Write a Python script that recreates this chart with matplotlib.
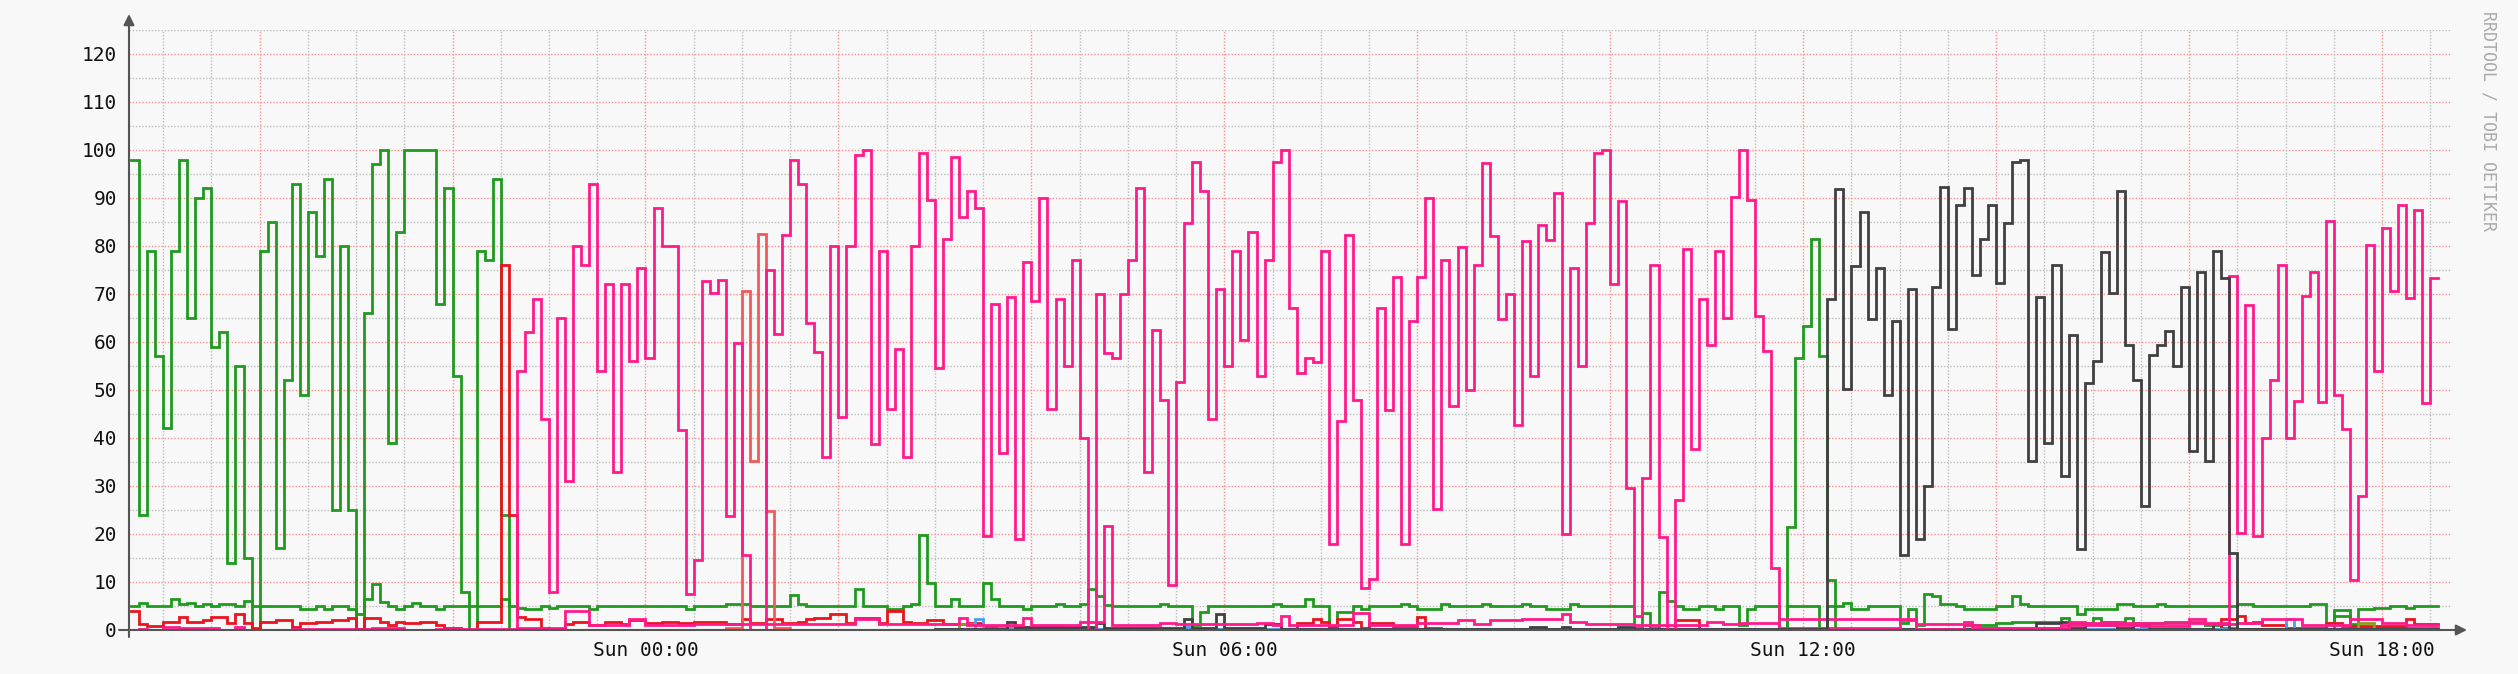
import numpy as np
import matplotlib
matplotlib.use("Agg")
import matplotlib.pyplot as plt
from matplotlib.transforms import blended_transform_factory

N = 287          # 5-minute steps, first step starts Sat 18:40
STEP_H = 5 / 60.0
MIDNIGHT_STEP = 64
nan = np.nan

# ---------------- data ----------------
# big green series, steps 0..46, then idle, then steps 206..211
green_head = [98, 24, 79, 57, 42, 79, 98, 65, 90, 92, 59, 62, 14, 55, 15, 0, 79, 85, 17, 52,
              93, 49, 87, 78, 94, 25, 80, 25, 0, 66, 97, 100, 39, 83, 100, 100, 100, 100, 68, 92,
              53, 8, 0, 79, 77, 94, 24]
green_mid = [21.5, 56.6, 63.3, 81.5, 57, 10.5]
green_tail_bps = [(212, 0.3), (228, 1.0), (232, 1.4), (234, 1.7), (240, 2.5), (241, 1.4), (244, 2.5),
                  (245, 1.7), (248, 2.5), (249, 1.4), (253, 1.7), (258, 1.0), (260, 0.5), (262, 0.3),
                  (274, 3.0), (276, 0.5)]

# low green series (start step, value)
green_low_bps = [(0, 5), (1, 5.7), (2, 5), (5, 6.4), (6, 5.5), (7, 5.6), (8, 5), (9, 5.5), (10, 5), (11, 5.4),
                 (12, 5.5), (13, 5), (14, 6), (15, 5), (21, 4.3), (23, 5), (24, 4.3), (25, 5), (27, 4.3),
                 (28, 3.3), (29, 6.5), (30, 9.5), (31, 5.9), (32, 5), (33, 4.3), (34, 5), (35, 5.6), (36, 5),
                 (38, 4.3), (39, 5), (46, 6.5), (47, 5), (48, 4.6), (49, 4.3), (51, 5), (52, 4.6), (53, 5),
                 (57, 4.3), (58, 5), (69, 4.3), (70, 5), (74, 5.5), (77, 5), (82, 7.2), (83, 5.5), (84, 5),
                 (90, 8.5), (91, 5), (94, 4.3), (96, 5), (97, 5.5), (98, 19.7), (99, 9.7), (100, 5),
                 (102, 6.5), (103, 5), (106, 9.7), (107, 6.5), (108, 5), (111, 4.3), (112, 5), (115, 5.5),
                 (116, 5), (118, 5.5), (119, 8.5), (120, 7), (121, 5.3), (122, 5), (128, 5.5), (129, 5),
                 (132, 1.0), (133, 3.8), (134, 5), (142, 5.5), (143, 5), (146, 6.4), (147, 5), (149, 0.6),
                 (150, 3.8), (152, 5), (153, 4.3), (154, 5), (158, 5.5), (159, 5), (160, 4.3), (163, 5.5),
                 (164, 5), (168, 5.5), (169, 5), (173, 5.5), (174, 5), (176, 4.3), (179, 5.5), (180, 5),
                 (187, 0.5), (188, 3.5), (189, 0.5), (190, 8), (191, 6), (192, 5), (193, 4.3), (195, 5),
                 (197, 4.3), (198, 5), (200, 1), (201, 4.3), (202, 5), (205, 0.3), (206, 5), (210, 0.5),
                 (211, 5), (213, 5.6), (214, 4.3), (216, 5), (220, 1.5), (221, 4.3), (222, 1), (223, 7.5),
                 (224, 7), (225, 5.5), (227, 5), (228, 4.3), (232, 5), (234, 7), (235, 5.5), (236, 5),
                 (242, 3.3), (243, 4.3), (247, 5.5), (249, 5), (252, 5.5), (253, 5), (262, 5.5), (264, 5),
                 (271, 5.5), (273, 1.5), (274, 4.2), (276, 1.2), (277, 4.3), (279, 4.5), (281, 5),
                 (283, 4.5), (284, 5)]

# red series (includes the spike at steps 46-47)
red_bps = [(0, 4.0), (1, 1.2), (2, 0.8), (4, 1.7), (6, 2.8), (7, 1.7), (9, 2.1), (10, 2.8), (12, 1.5),
           (13, 3.3), (14, 1.5), (15, 0.5), (16, 1.7), (18, 2.1), (20, 0.7), (21, 1.4), (23, 1.7), (25, 2.1),
           (27, 2.4), (28, 0.3), (29, 2.4), (31, 1.7), (32, 1.0), (33, 1.7), (34, 1.4), (36, 1.7), (38, 1.0),
           (39, 0.5), (41, 0.1), (43, 1.7), (46, 76), (47, 24), (48, 2.8), (49, 2.2), (51, 0.5), (52, 0.1),
           (54, 1.2), (55, 1.7), (57, 1.0), (59, 1.7), (61, 1.2), (62, 2.0), (64, 1.5), (66, 1.7), (68, 1.5),
           (70, 1.7), (74, 1.2), (76, 2.2), (77, 1.4), (79, 2.2), (81, 1.4), (83, 1.7), (84, 2.2), (85, 2.5),
           (87, 3.3), (89, 1.4), (90, 2.5), (93, 1.4), (94, 4.0), (96, 1.7), (97, 1.4), (99, 2.0), (101, 1.3),
           (104, 1.4), (106, 0.8), (108, 0.3), (145, 1.4), (147, 2.2), (148, 1.7), (149, 0.8), (150, 2.2),
           (152, 1.7), (153, 0.5), (154, 1.4), (157, 0.8), (160, 2.8), (161, 0.5), (163, 0.3), (192, 2.0),
           (195, 0.3), (260, 2.2), (262, 3.0), (263, 1.4), (264, 1.7), (265, 1.0), (268, 0.5), (273, 1.4),
           (275, 0.8), (283, 2.2), (284, 1.2)]

# light red series (only active around Sun 00:30)
orange_bps = [(0, nan), (74, 0.5), (76, 70.7), (77, 35.3), (78, 82.6), (79, 24.7), (80, 0.5), (82, nan)]

# big pink series
pink_low_bps = [(0, 0), (1, 0.3), (2, 0), (4, 0.7), (6, 0.4), (11, 0), (13, 0.7), (14, 0), (20, 0.3),
                (30, 0.5), (34, 0), (38, 0.3), (48, 0), (205, 2.2), (222, 0.3), (228, 1.0), (230, 0.5),
                (240, 1.0), (250, 0.8), (256, 1.5)]
pink_main_a = [54, 62, 69, 44, 8, 65, 31, 80, 76, 93,
               54, 72, 33, 72, 56, 75.5, 56.6, 88, 80, 80, 41.6, 7.5, 14.5, 72.7, 70.3, 73, 23.7, 59.8,
               15.7, 0, 0,
               75, 61.6, 82.3, 98, 93, 64, 58, 36, 80, 44.4, 80, 99, 100, 38.8, 79, 46, 58.5, 36, 80, 99.4,
               89.5, 54.5, 81.5, 98.6, 86, 91.5, 88, 19.5, 68, 36.8, 69.4, 19, 76.6, 68.6, 90, 46, 69, 55,
               77, 40,
               0, 70, 57.7, 56.6, 70, 77, 92, 33, 62.6,
               48, 9.3, 51.6, 84.8, 97.6, 91.5, 44, 71, 55, 79, 60.4, 83, 53, 77, 97.6, 100, 67, 53.6,
               56.6, 55.8, 79, 17.9, 43.6, 82.3, 48, 8.8, 10.7, 67, 45.8, 73.5, 18, 64.4, 73.5, 89.9,
               25.3, 77, 46.6, 79.7, 50, 76, 97.3, 82, 64.8, 70, 42.8, 81, 53, 84.3, 81.3, 91, 20, 75.5,
               55, 84.7, 99.4, 100, 72, 89.3, 29.5, 3, 31.7, 76, 19.3, 0, 27, 79.3, 37.8, 69, 59.4, 79,
               65, 90.3, 100, 89.5, 65.4, 58.2, 13]
pink_main_b = [73.7, 20.3, 67.8, 19.5, 40, 52, 76, 40, 47.8, 69.6, 74.5, 47.6, 85.2, 49, 41.8, 10.5,
               27.9, 80.3, 53.9, 83.7, 70.7, 88.6, 69.2, 87.5, 47.2, 73.3]

# second (low) pink series
pink2_bps = [(0, nan), (48, 0.5), (54, 4), (57, 1), (62, 2.2), (64, 1), (70, 1.2), (90, 2.2), (93, 1.2),
             (103, 2.5), (104, 1), (111, 2.5), (112, 1), (118, 1.7), (121, 21.7), (122, 1.0), (128, 1.5),
             (130, 1.3), (140, 1.5), (142, 1), (143, 3), (144, 1), (152, 3.5), (154, 1), (160, 1.5),
             (165, 2), (167, 1.3), (169, 2), (173, 2.2), (178, 3.3), (179, 1.7), (181, 1.2), (187, 1.0),
             (196, 1.7), (198, 1.3), (200, 1.5), (205, 0.5), (220, 2.0), (222, 1.2), (228, 1.7), (229, 0.5),
             (241, 1.7), (243, 1.4), (245, 1.7), (247, 1.4), (256, 2.2), (258, 1.2), (262, 1.5), (265, 2.2),
             (270, 1.0), (276, 2.2), (280, 1.5), (283, 1.0)]

# big dark grey series, steps 211..261
grey_main = [69, 91.9, 50.2, 75.8, 87, 64.8, 75.5, 49, 64.4, 15.7, 71, 18.9, 30, 71.5, 92.3, 62.8, 88.5,
             92, 74, 81.5, 88.5, 72.3, 84.8, 97.6, 98, 35.2, 69.4, 39, 76, 32, 61.4, 16.9, 51.4, 56.1, 78.7,
             70.3, 91.5, 59.4, 52, 25.8, 57.2, 59.3, 62.2, 55, 71.5, 37.2, 74.5, 35.2, 79, 73.4, 16.1]
grey_bps = [(0, nan), (205, 0.3), (262, 0.2), (265, nan)]

# low dark grey series
grey2_bps = [(0, nan), (100, 0.3), (109, 1.7), (110, 0.7), (120, 1.5), (121, 0.5), (131, 2.2), (132, 0.5),
             (135, 3.3), (136, 0.5), (141, 1.2), (143, 0.3), (174, 0.6), (176, 0.3), (178, 0.6), (179, 0.3),
             (185, 0.7), (187, 0.3), (237, 1.4), (240, 1.7), (241, 0.5), (243, 1.2), (245, 1.0), (247, 0.5),
             (249, 1.0), (251, 0.3), (259, 1.2), (261, 0.3)]

blue_bps = [(0, nan), (100, 0.3), (105, 2.2), (106, 0.3), (114, 0.7), (115, 0.3), (131, 0.7), (132, 0.3),
            (268, 2.2), (269, 0.3)]
olive_bps = [(0, nan), (100, 0.2), (103, 1.2), (105, 0.2), (108, 0.7), (113, 0.2), (277, 1.4), (279, 0.2)]

y_ticks = list(range(0, 121, 10))
x_tick_hours = [0, 6, 12, 18]
x_tick_labels = ["Sun 00:00", "Sun 06:00", "Sun 12:00", "Sun 18:00"]

# ---------------- build series ----------------
def expand(bps, n=N):
    out = np.full(n, np.nan)
    for k, (s, v) in enumerate(bps):
        e = bps[k + 1][0] if k + 1 < len(bps) else n
        out[s:e] = v
    return out

green = expand(green_tail_bps)
green[:47] = green_head
green[47:206] = 0
green[206:212] = green_mid
green_low = expand(green_low_bps)
red = expand(red_bps)
orange = expand(orange_bps)
pink = expand(pink_low_bps)
pink[48:205] = pink_main_a
pink[261:287] = pink_main_b
pink2 = expand(pink2_bps)
grey = expand(grey_bps)
grey[211:262] = grey_main
grey2 = expand(grey2_bps)
blue = expand(blue_bps)
olive = expand(olive_bps)

t = (np.arange(N + 1) - MIDNIGHT_STEP) * STEP_H  # step edges, hours from Sun 00:00

def ext(a):
    return np.append(a, a[-1])

# ---------------- figure ----------------
W, H = 2518, 674
PX_PER_H = 96.48
X0_PX = 645.5            # pixel of Sun 00:00
AX_L, AX_R = 129, 2452
Y0_PX, PX_PER_UNIT = 630, 4.8
YMAX = 125

BG = "#f8f8f8"
fig = plt.figure(figsize=(W / 100, H / 100), dpi=100, facecolor=BG)
ax = fig.add_axes([AX_L / W, (H - Y0_PX) / H, (AX_R - AX_L) / W, YMAX * PX_PER_UNIT / H])
ax.set_facecolor(BG)
xmin = (AX_L - X0_PX) / PX_PER_H
xmax = (AX_R - X0_PX) / PX_PER_H
ax.set_xlim(xmin, xmax)
ax.set_ylim(0, YMAX)
for s in ax.spines.values():
    s.set_visible(False)
ax.set_xticks([])
ax.set_yticks([])

dots = (0, (1, 1.3))
# horizontal grid
for v in np.arange(5, YMAX + 0.1, 5):
    major = (v % 10 == 0)
    ax.axhline(v, color="#ff8f8f" if major else "#bcbcbc", lw=1.0, linestyle=dots, zorder=1)
# vertical grid
hh = np.arange(np.ceil(xmin * 2) / 2, xmax, 0.5)
for h in hh:
    major = abs(h / 2 - round(h / 2)) < 1e-9
    ax.axvline(h, color="#ff8f8f" if major else "#bcbcbc", lw=1.0, linestyle=dots, zorder=1)

LW = 2.0
series = [
    (green, "#1f9a1f"),
    (green_low, "#1f9a1f"),
    (red, "#e8141e"),
    (orange, "#f25a5a"),
    (olive, "#8c9c1c"),
    (blue, "#4a9ef0"),
    (grey2, "#404040"),
    (pink2, "#ff1a8c"),
    (pink, "#ff1a8c"),
    (grey, "#404040"),
]
for arr, col in series:
    ax.step(t, ext(arr), where="post", color=col, lw=LW, zorder=3, solid_joinstyle="miter")

# axes with arrows
axis_col = "#555555"
ax.annotate("", xy=(0, (Y0_PX - 14) / (YMAX * PX_PER_UNIT)), xytext=(0, -7 / (YMAX * PX_PER_UNIT)),
            xycoords="axes fraction", textcoords="axes fraction",
            arrowprops=dict(arrowstyle="-|>", color=axis_col, lw=1.5, mutation_scale=16,
                            shrinkA=0, shrinkB=0), zorder=5, annotation_clip=False)
ax.annotate("", xy=((2467 - AX_L) / (AX_R - AX_L), 0), xytext=((119 - AX_L) / (AX_R - AX_L), 0),
            xycoords="axes fraction", textcoords="axes fraction",
            arrowprops=dict(arrowstyle="-|>", color=axis_col, lw=1.5, mutation_scale=16,
                            shrinkA=0, shrinkB=0), zorder=5, annotation_clip=False)

font = dict(family="DejaVu Sans Mono", size=14, color="#111111")
trans_y = blended_transform_factory(ax.transAxes, ax.transData)
for v in y_ticks:
    ax.text((117 - AX_L) / (AX_R - AX_L), v - 7.2 / PX_PER_UNIT, str(v), transform=trans_y,
            ha="right", va="baseline", clip_on=False, **font)
trans_x = blended_transform_factory(ax.transData, ax.transAxes)
for h, lab in zip(x_tick_hours, x_tick_labels):
    ax.text(h, -26 / (YMAX * PX_PER_UNIT), lab, transform=trans_x, ha="center", va="baseline",
            clip_on=False, **font)

fig.text(2489 / W, 1 - 121 / H, "RRDTOOL / TOBI OETIKER", rotation=270, ha="center", va="center",
         family="DejaVu Sans Mono", size=12, color="#aaaaaa")

fig.savefig("out.png", dpi=100, facecolor=BG)
